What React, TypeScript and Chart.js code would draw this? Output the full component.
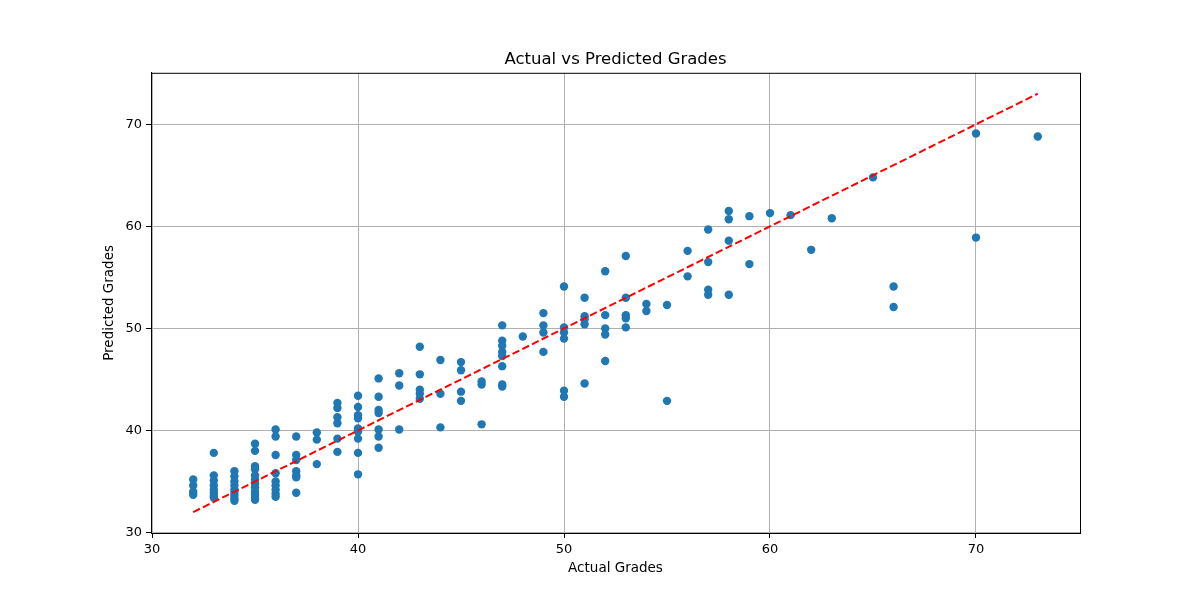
import { useEffect, useRef } from 'react'
import { Chart, registerables } from 'chart.js'

Chart.register(...registerables)

// actual grade of each student, and the model's prediction for it
const actualGrades = [
  32, 32, 32, 32,
  33, 33, 33, 33, 33, 33, 33, 33,
  34, 34, 34, 34, 34, 34, 34, 34, 34,
  35, 35, 35, 35, 35, 35, 35, 35, 35, 35, 35, 35,
  36, 36, 36, 36, 36, 36, 36, 36, 36,
  37, 37, 37, 37, 37, 37, 37,
  38, 38, 38,
  39, 39, 39, 39, 39, 39,
  40, 40, 40, 40, 40, 40, 40, 40, 40,
  41, 41, 41, 41, 41, 41, 41,
  42, 42, 42,
  43, 43, 43, 43, 43,
  44, 44, 44,
  45, 45, 45, 45,
  46, 46, 46,
  47, 47, 47, 47, 47, 47, 47, 47,
  48,
  49, 49, 49, 49,
  50, 50, 50, 50, 50, 50,
  51, 51, 51, 51, 51,
  52, 52, 52, 52, 52,
  53, 53, 53, 53, 53,
  54, 54,
  55, 55,
  56, 56,
  57, 57, 57, 57,
  58, 58, 58, 58,
  59, 59,
  60,
  61,
  62,
  63,
  65,
  66, 66,
  70, 70,
  73,
]

const predictedGrades = [
  35.2, 34.6, 34.0, 33.7,
  37.8, 35.6, 35.1, 34.6, 34.2, 33.9, 33.6, 33.4,
  36.0, 35.5, 35.0, 34.6, 34.2, 33.9, 33.6, 33.3, 33.1,
  38.7, 38.0, 36.5, 36.2, 35.6, 35.2, 34.8, 34.4, 34.0, 33.7, 33.4, 33.2,
  40.1, 39.4, 37.6, 35.8, 35.0, 34.6, 34.2, 33.8, 33.5,
  39.4, 37.6, 37.1, 36.0, 35.6, 35.4, 33.9,
  39.8, 39.1, 36.7,
  42.7, 42.2, 41.3, 40.7, 39.2, 37.9,
  43.4, 42.3, 41.5, 41.2, 40.2, 39.9, 39.2, 37.8, 35.7,
  45.1, 43.3, 42.0, 41.7, 40.1, 39.4, 38.3,
  45.6, 44.4, 40.1,
  48.2, 45.5, 44.0, 43.6, 43.1,
  46.9, 43.6, 40.3,
  46.7, 45.9, 43.8, 42.9,
  44.8, 44.5, 40.6,
  50.3, 48.8, 48.3, 47.7, 47.3, 46.3, 44.5, 44.3,
  49.2,
  51.5, 50.3, 49.6, 47.7,
  54.1, 50.1, 49.6, 49.0, 43.9, 43.3,
  53.0, 51.2, 50.9, 50.4, 44.6,
  55.6, 51.3, 50.0, 49.4, 46.8,
  57.1, 53.0, 51.3, 51.0, 50.1,
  52.4, 51.7,
  52.3, 42.9,
  57.6, 55.1,
  59.7, 56.5, 53.8, 53.3,
  61.5, 60.7, 58.6, 53.3,
  61.0, 56.3,
  61.3,
  61.1,
  57.7,
  60.8,
  64.8,
  54.1, 52.1,
  69.1, 58.9,
  68.8,
]

// ideal prediction line, from the lowest to the highest actual grade
const idealLine = [32, 73]

const tickValues = [30, 40, 50, 60, 70]
const axisMin = 29.95
const axisMax = 75.05

const frame = {
  id: 'frame',
  afterDatasetsDraw(chart: Chart) {
    const { ctx, chartArea } = chart
    ctx.save()
    ctx.strokeStyle = '#000'
    ctx.lineWidth = 1
    ctx.strokeRect(chartArea.left + 0.5, chartArea.top + 0.5, chartArea.right - chartArea.left, chartArea.bottom - chartArea.top)
    ctx.restore()
  },
}

export default function App() {
  const chartRef = useRef<HTMLCanvasElement>(null)
  const chartInstanceRef = useRef<Chart | null>(null)

  useEffect(() => {
    document.body.style.margin = '0'
    if (!chartRef.current) return
    const ctx = chartRef.current.getContext('2d')
    if (!ctx) return

    if (chartInstanceRef.current) {
      chartInstanceRef.current.destroy()
    }

    const font = 'DejaVu Sans'
    const gridColor = '#b0b0b0'
    const setTicks = (scale: any) => {
      scale.ticks = tickValues.map((value) => ({ value }))
    }

    chartInstanceRef.current = new Chart(ctx, {
      type: 'scatter',
      data: {
        datasets: [
          {
            type: 'line',
            label: 'Ideal',
            data: idealLine.map((v) => ({ x: v, y: v })),
            borderColor: '#ff0000',
            borderWidth: 2,
            borderDash: [7.5, 3.3],
            pointRadius: 0,
            fill: false,
            order: 0,
          },
          {
            label: 'Predictions',
            data: actualGrades.map((x, i) => ({ x, y: predictedGrades[i] })),
            backgroundColor: '#1f77b4',
            borderWidth: 0,
            pointRadius: 4.2,
            order: 1,
          },
        ],
      },
      options: {
        responsive: false,
        animation: false,
        devicePixelRatio: 1,
        layout: { padding: { left: 0, right: 120, top: 0, bottom: 0 } },
        plugins: {
          legend: { display: false },
          tooltip: { enabled: false },
          title: {
            display: true,
            fullSize: false,
            text: 'Actual vs Predicted Grades',
            color: '#000',
            font: { family: font, size: 16.5, weight: 'normal' },
            padding: { top: 50, bottom: 3 },
          },
        },
        scales: {
          x: {
            type: 'linear',
            min: axisMin,
            max: axisMax,
            afterBuildTicks: setTicks,
            afterFit: (scale: any) => {
              scale.height = 67
            },
            ticks: { color: '#000', padding: 4, font: { family: font, size: 13 } },
            grid: { color: gridColor, lineWidth: 1, tickColor: '#000', tickLength: 5 },
            border: { display: true, color: '#000' },
            title: {
              display: true,
              text: 'Actual Grades',
              color: '#000',
              font: { family: font, size: 13.5 },
              padding: { top: 0, bottom: 23 },
            },
          },
          y: {
            type: 'linear',
            min: axisMin,
            max: axisMax,
            afterBuildTicks: setTicks,
            afterFit: (scale: any) => {
              scale.width = 151
            },
            ticks: { color: '#000', padding: 4, font: { family: font, size: 13 } },
            grid: { color: gridColor, lineWidth: 1, tickColor: '#000', tickLength: 5 },
            border: { display: true, color: '#000' },
            title: {
              display: true,
              text: 'Predicted Grades',
              color: '#000',
              font: { family: font, size: 13.5 },
              padding: { top: 101, bottom: 0 },
            },
          },
        },
      },
      plugins: [frame],
    })

    return () => {
      chartInstanceRef.current?.destroy()
      chartInstanceRef.current = null
    }
  }, [])

  return <canvas ref={chartRef} width={1200} height={600}></canvas>
}
